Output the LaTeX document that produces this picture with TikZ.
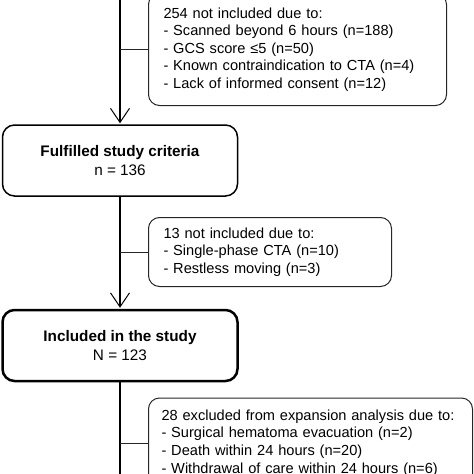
\documentclass[tikz,border=0pt]{standalone}
\usepackage{fontspec}
\setmainfont{Liberation Sans}
\usetikzlibrary{arrows.meta}
\begin{document}
\begin{tikzpicture}[x=1pt,y=-1pt,
  every node/.style={font=\fontsize{14.6}{17.6}\selectfont},
  sidebox/.style={draw=black!85, line width=1pt, rounded corners=11pt, anchor=north west, align=left, inner xsep=15pt, inner ysep=0pt},
  mainbox/.style={draw=black, rounded corners=12pt, align=center, minimum width=235pt, minimum height=71pt, inner sep=0pt, font=\fontsize{15.3}{19}\selectfont},
  flow/.style={line width=1.2pt, -{Straight Barb[length=14pt,width=19pt,line width=1pt]}, shorten >=1pt},
  branch/.style={line width=1pt, draw=black!85},
  trunk/.style={line width=1.2pt}
]
\useasboundingbox (0,0) rectangle (474,474);
\clip (0,0) rectangle (474,474);

\node[sidebox, minimum height=112pt, text width=268pt] (ex1) at (148,-7) {254 not included due to:\\- Scanned beyond 6 hours (n=188)\\- GCS score \symbol{"2264}5 (n=50)\\- Known contraindication to CTA (n=4)\\- Lack of informed consent (n=12)};

\node[mainbox, line width=1.5pt] (f) at (120,160.5) {\textbf{Fulfilled study criteria}\\n = 136};

\node[sidebox, minimum height=69pt, text width=213pt] (ex2) at (148,217) {13 not included due to:\\- Single-phase CTA (n=10)\\- Restless moving (n=3)};

\node[mainbox, line width=2.5pt] (inc) at (120,345.5) {\textbf{Included in the study}\\N = 123};

\node[sidebox, minimum height=90pt, inner xsep=13pt, text width=298pt, anchor=west] (ex3) at (148,443) {28 excluded from expansion analysis due to:\\- Surgical hematoma evacuation (n=2)\\- Death within 24 hours (n=20)\\- Withdrawal of care within 24 hours (n=6)};

\coordinate (top) at (120,-2);
\coordinate (bot) at (120,480);

\draw[flow] (top) -- (f.north);
\draw[branch] (ex1.west -| top) -- (ex1.west);
\draw[flow] (f.south) -- (inc.north);
\draw[branch] (ex2.west -| f.south) -- (ex2.west);
\draw[trunk] (inc.south) -- (bot);
\draw[branch] (ex3.west -| bot) -- (ex3.west);
\end{tikzpicture}
\end{document}
